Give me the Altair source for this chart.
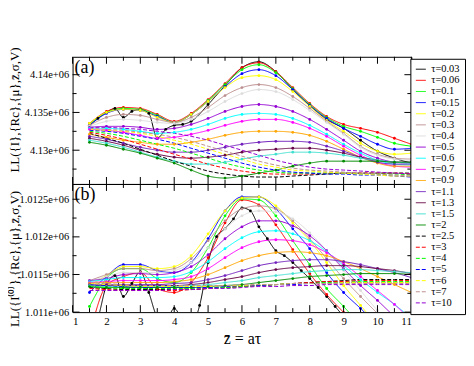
import altair as alt
import pandas as pd

SERIF = "Liberation Serif"

TAUS = ["τ=0.03", "τ=0.06", "τ=0.1", "τ=0.15", "τ=0.2", "τ=0.3", "τ=0.4", "τ=0.5",
        "τ=0.6", "τ=0.7", "τ=0.9", "τ=1.1", "τ=1.3", "τ=1.5", "τ=2",
        "τ=2.5", "τ=3", "τ=4", "τ=5", "τ=6", "τ=7", "τ=10"]
SOLID = TAUS[:15]
COLORS = ["#000000", "#ff0000", "#00ff00", "#0000ff", "#ffff00", "#bc8f8f", "#dcdcdc",
          "#9400d3", "#00ffff", "#ff00ff", "#ffa500", "#7221bc", "#670748", "#40e0d0",
          "#008b00", "#000000", "#ff0000", "#00ff00", "#0000ff", "#ffff00", "#bc8f8f",
          "#9400d3"]
DASHES = [[1, 0]] * 15 + [[4, 2]] * 7

# common abscissa (z = a tau)
X = [1.5, 2, 2.5, 3, 3.5, 4, 4.5, 5, 5.5, 6, 6.5, 7, 7.5, 8, 8.5, 9, 9.5, 10, 10.5, 11]
XA_BLACK = [1.5, 1.75, 2, 2.25, 2.5, 2.75, 3, 3.25, 3.5, 3.75, 4, 4.25, 4.5, 5, 5.5, 6,
            6.5, 7, 7.5, 8, 8.5, 9, 9.5, 10, 10.5, 11]
XB_BLACK = [1.5, 1.75, 2, 2.25, 2.5, 2.75, 3, 3.25, 3.5, 3.75, 4, 4.25, 4.5, 4.75, 5,
            5.25, 5.5, 5.75, 6, 6.25, 6.5, 6.75, 7, 7.25, 7.5, 7.75, 8, 8.25, 8.5, 8.75,
            9, 9.5, 10, 10.5, 11]

# panel (a): LL({I},{Rc},{mu},z,sigma,V)
A = {
    "τ=0.03": [4133290, 4134210, 4135000, 4135530, 4134340, 4135130, 4135400, 4134870,
               4131580, 4132760, 4133290, 4133420, 4133820, 4136050, 4138550, 4140920,
               4141710, 4140400, 4138030, 4135920, 4134080, 4132900, 4131320, 4129870,
               4128950, 4128290],
    "τ=0.06": [4133550, 4135130, 4135660, 4135530, 4134740, 4133820, 4134870, 4136710,
               4138820, 4140920, 4141580, 4140400, 4138290, 4136190, 4134470, 4133420,
               4132900, 4132370, 4131580, 4130790],
    "τ=0.1": [4133420, 4135000, 4135530, 4135400, 4134610, 4133680, 4134740, 4136580,
              4138690, 4140660, 4141320, 4140270, 4138160, 4136050, 4134340, 4133160,
              4132500, 4131710, 4130920, 4130530],
    "τ=0.15": [4133290, 4134870, 4135400, 4135260, 4134470, 4133680, 4134740, 4136450,
               4138420, 4140130, 4140660, 4139870, 4138030, 4135920, 4134210, 4132900,
               4131840, 4130790, 4130130, 4130260],
    "τ=0.2": [4133550, 4135000, 4135400, 4135260, 4134340, 4133680, 4134740, 4136450,
              4138290, 4139610, 4139870, 4139340, 4137760, 4135790, 4133950, 4132500,
              4130920, 4129870, 4129470, 4129610],
    "τ=0.3": [4133290, 4134340, 4134740, 4134610, 4134080, 4133680, 4134340, 4135660,
              4137240, 4138290, 4138690, 4138290, 4137110, 4135530, 4133820, 4132240,
              4130530, 4129470, 4128950, 4128820],
    "τ=0.4": [4133160, 4133820, 4134080, 4133950, 4133680, 4133550, 4134080, 4135130,
              4136450, 4137500, 4138030, 4137760, 4136710, 4135260, 4133680, 4132110,
              4130390, 4129340, 4128820, 4128680],
    "τ=0.5": [4133030, 4133160, 4133160, 4133030, 4132760, 4132900, 4133420, 4134210,
              4135130, 4135790, 4136050, 4135790, 4135130, 4134080, 4132760, 4131320,
              4129870, 4128950, 4128420, 4128290],
    "τ=0.6": [4132900, 4132900, 4132760, 4132500, 4132240, 4132370, 4132760, 4133420,
              4134210, 4134740, 4134870, 4134740, 4134210, 4133290, 4132110, 4130790,
              4129610, 4128680, 4128160, 4128030],
    "τ=0.7": [4132760, 4132630, 4132370, 4131970, 4131580, 4131710, 4132110, 4132630,
              4133290, 4133820, 4134080, 4134080, 4133680, 4132900, 4131840, 4130530,
              4129340, 4128420, 4127890, 4127760],
    "τ=0.9": [4132110, 4131710, 4131320, 4131050, 4130790, 4130790, 4131050, 4131450,
              4131970, 4132370, 4132500, 4132500, 4132370, 4131970, 4131180, 4130130,
              4129080, 4128290, 4127890, 4127890],
    "τ=1.1": [4131840, 4131450, 4130920, 4130390, 4130000, 4129740, 4129740, 4130000,
              4130390, 4130790, 4131050, 4131180, 4131180, 4131050, 4130530, 4129870,
              4129080, 4128420, 4128160, 4128160],
    "τ=1.3": [4131580, 4131180, 4130660, 4130000, 4129470, 4129080, 4128950, 4129080,
              4129340, 4129740, 4130000, 4130130, 4130260, 4130260, 4130000, 4129610,
              4129080, 4128680, 4128420, 4128420],
    "τ=1.5": [4131320, 4130920, 4130390, 4129740, 4129080, 4128550, 4128160, 4128160,
              4128420, 4128820, 4129210, 4129470, 4129740, 4129740, 4129610, 4129340,
              4128950, 4128680, 4128420, 4128290],
    "τ=2": [4131050, 4130660, 4130130, 4129610, 4128950, 4128290, 4127370, 4126580,
            4126310, 4126580, 4126970, 4127370, 4127890, 4128290, 4128550, 4128550,
            4128550, 4128550, 4128420, 4128420],
    "τ=2.5": [4132240, 4131580, 4130920, 4130130, 4129340, 4128550, 4127890, 4127240,
              4126840, 4126580, 4126450, 4126450, 4126580, 4126710, 4126840, 4126970,
              4126970, 4126970, 4126970, 4126970],
    "τ=3": [4132370, 4131970, 4131450, 4130790, 4130130, 4129470, 4128820, 4128160,
            4127630, 4127240, 4126970, 4126840, 4126840, 4126840, 4126970, 4126970,
            4126970, 4126970, 4126970, 4126840],
    "τ=4": [4132500, 4132240, 4131840, 4131320, 4130790, 4130260, 4129610, 4128950,
            4128290, 4127760, 4127370, 4127100, 4126970, 4126970, 4126970, 4126970,
            4126840, 4126840, 4126840, 4126710],
    "τ=5": [4132630, 4132500, 4132240, 4131840, 4131450, 4130920, 4130260, 4129610,
            4128950, 4128290, 4127760, 4127370, 4127100, 4126970, 4126840, 4126840,
            4126710, 4126710, 4126580, 4126450],
    "τ=6": [4132760, 4132630, 4132500, 4132240, 4131840, 4131320, 4130790, 4130130,
            4129470, 4128820, 4128160, 4127760, 4127370, 4127240, 4127100, 4126970,
            4126840, 4126710, 4126580, 4126580],
    "τ=7": [4132900, 4132760, 4132630, 4132370, 4132110, 4131710, 4131180, 4130530,
            4129870, 4129210, 4128550, 4128030, 4127630, 4127370, 4127240, 4127100,
            4126970, 4126840, 4126710, 4126580],
    "τ=10": [4133030, 4133030, 4132900, 4132760, 4132500, 4132240, 4131840, 4131320,
             4130660, 4130000, 4129340, 4128680, 4128160, 4127760, 4127500, 4127370,
             4127240, 4127100, 4126970, 4126840],
}

# panel (b): LL({I(0)},{Rc},{mu},z,sigma,V)
B = {
    "τ=0.03": [1010625, 1010917, 1011353, 1011486, 1011208, 1011380, 1011538, 1011261,
               1010943, 1010890, 1011049, 1010890, 1010824, 1011089, 1011658, 1012002,
               1012107, 1012240, 1012385, 1012345, 1012134, 1011975, 1011816, 1011750,
               1011658, 1011552, 1011446, 1011327, 1011208, 1011075, 1010943, 1010692,
               1010493, 1010295, 1010030],
    "τ=0.06": [1010692, 1011353, 1011472, 1011525, 1011314, 1011261, 1011393, 1011724,
               1012187, 1012491, 1012425, 1012160, 1011830, 1011512, 1011234, 1010996,
               1010758, 1010493, 1010229, 1009963],
    "τ=0.1": [1011075, 1011446, 1011578, 1011578, 1011446, 1011393, 1011525, 1011856,
              1012279, 1012504, 1012491, 1012279, 1011949, 1011631, 1011314, 1011075,
              1010824, 1010559, 1010295, 1010030],
    "τ=0.15": [1011261, 1011472, 1011631, 1011631, 1011552, 1011525, 1011658, 1011975,
               1012345, 1012531, 1012531, 1012372, 1012107, 1011843, 1011525, 1011261,
               1011049, 1010824, 1010559, 1010295],
    "τ=0.2": [1011353, 1011486, 1011605, 1011605, 1011578, 1011605, 1011750, 1012041,
              1012345, 1012517, 1012531, 1012412, 1012187, 1011949, 1011658, 1011353,
              1011089, 1010824, 1010559, 1010295],
    "τ=0.3": [1011419, 1011499, 1011578, 1011578, 1011552, 1011578, 1011710, 1011949,
              1012213, 1012372, 1012412, 1012372, 1012213, 1011975, 1011710, 1011446,
              1011208, 1010983, 1010758, 1010519],
    "τ=0.4": [1011406, 1011472, 1011525, 1011525, 1011525, 1011552, 1011658, 1011856,
              1012107, 1012279, 1012345, 1012332, 1012240, 1012054, 1011816, 1011552,
              1011287, 1011022, 1010784, 1010559],
    "τ=0.5": [1011419, 1011446, 1011499, 1011512, 1011499, 1011525, 1011605, 1011763,
              1011975, 1012134, 1012213, 1012213, 1012147, 1012015, 1011816, 1011578,
              1011353, 1011155, 1010943, 1010758],
    "τ=0.6": [1011406, 1011433, 1011459, 1011459, 1011459, 1011472, 1011538, 1011671,
              1011843, 1011988, 1012068, 1012081, 1012041, 1011949, 1011803, 1011618,
              1011433, 1011261, 1011102, 1010917],
    "τ=0.7": [1011393, 1011406, 1011419, 1011419, 1011419, 1011433, 1011472, 1011578,
              1011724, 1011856, 1011935, 1011962, 1011949, 1011896, 1011790, 1011644,
              1011472, 1011287, 1011102, 1010890],
    "τ=0.9": [1011380, 1011393, 1011393, 1011393, 1011393, 1011406, 1011433, 1011499,
              1011591, 1011684, 1011750, 1011790, 1011803, 1011790, 1011750, 1011671,
              1011578, 1011472, 1011366, 1011261],
    "τ=1.1": [1011366, 1011366, 1011366, 1011366, 1011366, 1011380, 1011393, 1011433,
              1011486, 1011552, 1011618, 1011658, 1011684, 1011697, 1011697, 1011671,
              1011631, 1011578, 1011525, 1011459],
    "τ=1.3": [1011353, 1011353, 1011353, 1011353, 1011353, 1011353, 1011366, 1011393,
              1011433, 1011472, 1011525, 1011565, 1011591, 1011605, 1011618, 1011618,
              1011605, 1011578, 1011552, 1011512],
    "τ=1.5": [1011353, 1011340, 1011340, 1011340, 1011340, 1011340, 1011353, 1011366,
              1011393, 1011419, 1011459, 1011486, 1011512, 1011538, 1011552, 1011565,
              1011565, 1011552, 1011538, 1011525],
    "τ=2": [1011340, 1011327, 1011327, 1011327, 1011327, 1011327, 1011327, 1011340,
            1011353, 1011366, 1011393, 1011419, 1011446, 1011472, 1011486, 1011499,
            1011512, 1011512, 1011512, 1011499],
    "τ=2.5": [1011327, 1011314, 1011300, 1011300, 1011300, 1011300, 1011300, 1011314,
              1011327, 1011340, 1011353, 1011366, 1011380, 1011393, 1011406, 1011419,
              1011433, 1011433, 1011433, 1011433],
    "τ=3": [1011314, 1011300, 1011287, 1011287, 1011287, 1011287, 1011300, 1011314,
            1011327, 1011340, 1011353, 1011366, 1011380, 1011393, 1011406, 1011406,
            1011419, 1011419, 1011419, 1011419],
    "τ=4": [1011340, 1011327, 1011314, 1011314, 1011314, 1011314, 1011314, 1011327,
            1011327, 1011340, 1011353, 1011366, 1011380, 1011380, 1011393, 1011393,
            1011406, 1011406, 1011406, 1011406],
    "τ=5": [1011366, 1011353, 1011340, 1011327, 1011327, 1011327, 1011327, 1011327,
            1011340, 1011353, 1011353, 1011366, 1011366, 1011380, 1011380, 1011393,
            1011393, 1011393, 1011393, 1011393],
    "τ=6": [1011380, 1011366, 1011353, 1011340, 1011340, 1011340, 1011340, 1011340,
            1011353, 1011353, 1011366, 1011366, 1011380, 1011380, 1011380, 1011393,
            1011393, 1011393, 1011393, 1011393],
    "τ=7": [1011393, 1011380, 1011366, 1011353, 1011353, 1011353, 1011353, 1011353,
            1011353, 1011366, 1011366, 1011366, 1011380, 1011380, 1011380, 1011380,
            1011380, 1011380, 1011380, 1011380],
    "τ=10": [1011287, 1011287, 1011287, 1011287, 1011287, 1011300, 1011300, 1011314,
             1011314, 1011327, 1011340, 1011340, 1011353, 1011353, 1011366, 1011366,
             1011366, 1011366, 1011366, 1011366],
}

A_DOMAIN = [4125530, 4142370]
A_MAJOR = [4130000, 4135000, 4140000]
A_MINOR = [4127500, 4132500, 4137500]
B_DOMAIN = [1011000, 1012703]
B_MAJOR = [1011000, 1011500, 1012000, 1012500]
B_MINOR = [1011250, 1011750, 1012250]
X_MAJOR = [1, 2, 3, 4, 5, 6, 7, 8, 9, 10, 11]
X_MINOR = [1.5, 2.5, 3.5, 4.5, 5.5, 6.5, 7.5, 8.5, 9.5, 10.5]

W = 341
HA = 128
HB = 129


def long_df(series, black_x):
    rows = []
    for tau in TAUS:
        xs = black_x if tau == "τ=0.03" else X
        for xv, yv in zip(xs, series[tau]):
            rows.append({"x": xv, "v": yv, "tau": tau})
    return pd.DataFrame(rows)


LEG = alt.Legend(title=None, orient="none", legendX=340, legendY=2,
                 symbolType="stroke", symbolSize=100, symbolStrokeWidth=1,
                 labelFont=SERIF, labelFontSize=10.5, rowPadding=0.2,
                 strokeColor="black", fillColor="white", padding=5,
                 labelOffset=5, labelColor="black")


def panel(df, ydom, ymaj, ymin, ytitle, title_y, label, height, show_x):
    xsc = alt.Scale(domain=[1, 11], nice=False, zero=False)
    ysc = alt.Scale(domain=ydom, nice=False, zero=False)
    if show_x:
        xax = alt.Axis(values=X_MAJOR, ticks=False, domain=False, grid=False,
                       labelFont=SERIF, labelFontSize=11, labelPadding=3,
                       labelColor="black",
                       title="z̄ = aτ", titleFont=SERIF, titleFontSize=16,
                       titleFontWeight="normal", titlePadding=5, titleColor="black")
    else:
        xax = None
    yax = alt.Axis(values=ymaj,
                   labelExpr="replace(format(datum.value, '.4~e'), 'e+6', 'e+06')",
                   ticks=False, domain=False, grid=False, labelFont=SERIF,
                   labelFontSize=10.5, labelPadding=4, labelColor="black",
                   title=ytitle, titleFont=SERIF,
                   titleFontSize=13, titleFontWeight="normal", titleColor="black",
                   titleX=-58, titleY=title_y, titleBaseline="middle",
                   titleAlign="center", titleAngle=270)
    xe = alt.X("x:Q", scale=xsc, axis=xax)
    ye = alt.Y("v:Q", scale=ysc, axis=yax)
    color = alt.Color("tau:N", scale=alt.Scale(domain=TAUS, range=COLORS),
                      sort=TAUS, legend=LEG)
    dash = alt.StrokeDash("tau:N", scale=alt.Scale(domain=TAUS, range=DASHES),
                          sort=TAUS, legend=LEG)
    lines = alt.Chart(df).mark_line(strokeWidth=1, clip=True,
                                    interpolate="monotone").encode(
        x=xe, y=ye, color=color, strokeDash=dash)
    pts = alt.Chart(df[df["tau"].isin(SOLID)]).mark_circle(
        size=8, opacity=1, clip=True).encode(x=xe, y=ye, color=color)
    layers = [lines, pts]
    xmaj = pd.DataFrame({"x": X_MAJOR})
    xmin = pd.DataFrame({"x": X_MINOR})
    ymj = pd.DataFrame({"v": ymaj})
    ymn = pd.DataFrame({"v": ymin})
    for d, L in ((xmaj, 7), (xmin, 4)):
        layers.append(alt.Chart(d).mark_rule(color="black", strokeWidth=1).encode(
            x=xe, y=alt.value(0), y2=alt.value(L)))
        layers.append(alt.Chart(d).mark_rule(color="black", strokeWidth=1).encode(
            x=xe, y=alt.value(height), y2=alt.value(height - L)))
    for d, L in ((ymj, 7), (ymn, 4)):
        layers.append(alt.Chart(d).mark_rule(color="black", strokeWidth=1).encode(
            y=ye, x=alt.value(0), x2=alt.value(L)))
        layers.append(alt.Chart(d).mark_rule(color="black", strokeWidth=1).encode(
            y=ye, x=alt.value(W), x2=alt.value(W - L)))
    txt = alt.Chart(pd.DataFrame({"t": [label]})).mark_text(
        align="left", baseline="top", font=SERIF, fontSize=18).encode(
        text="t:N", x=alt.value(2), y=alt.value(2))
    layers.append(txt)
    return alt.layer(*layers).properties(width=W, height=height)


pa = panel(long_df(A, XA_BLACK), A_DOMAIN, A_MAJOR, A_MINOR,
           "LL({I},{Rc},{μ},z̄,σ,V)", 53, "(a)", HA, False)
pb = panel(long_df(B, XB_BLACK), B_DOMAIN, B_MAJOR, B_MINOR,
           "LL({I⁽⁰⁾},{Rc},{μ},z̄,σ,V)", 75, "(b)", HB, True)

chart = alt.vconcat(pa, pb, spacing=0, bounds="flush").properties(
    padding={"left": 0, "top": 37, "right": 0, "bottom": 0}
).configure_view(stroke="black", strokeWidth=1)

chart.save("out.html", embed_options={"renderer": "svg", "actions": False})
